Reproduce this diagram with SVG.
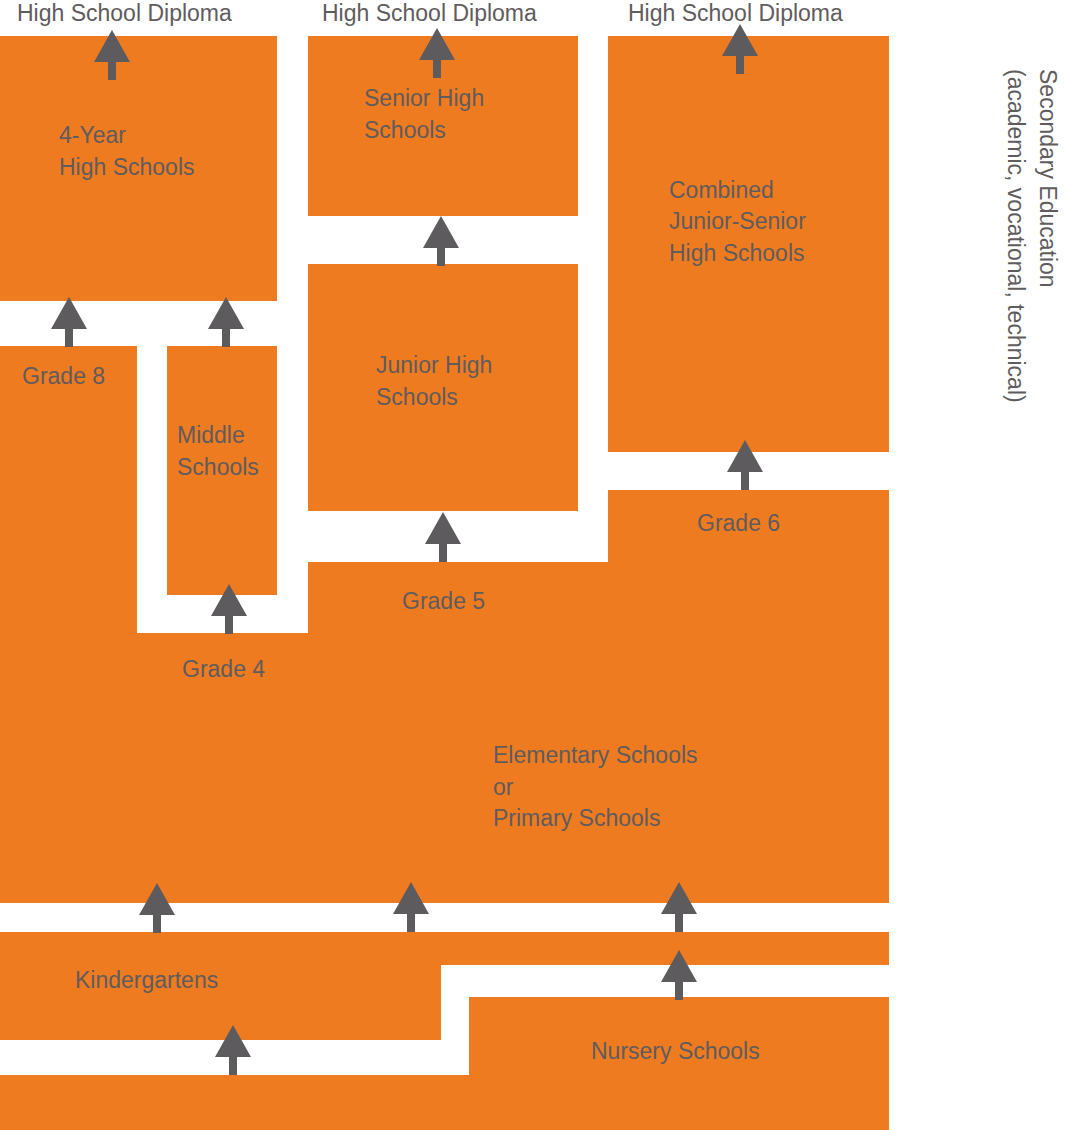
<svg xmlns="http://www.w3.org/2000/svg" width="1065" height="1130" viewBox="0 0 1065 1130">
<defs>
<style>
.b{fill:#EF7B21}
.t{font-family:"Liberation Sans",Arial,sans-serif;font-size:23px;fill:#5F5C5E}
.a{fill:#5D5B5D}
</style>
<symbol id="ar" overflow="visible"><polygon points="0,0 18,32 4,32 4,50 -4,50 -4,32 -18,32" class="a"/></symbol>
</defs>
<rect width="1065" height="1130" fill="#fff"/>
<g id="hs4"><rect class="b" x="0" y="36" width="277" height="265"/><text class="t" x="59" y="143">4-Year</text><text class="t" x="59" y="175">High Schools</text></g>
<g id="shs"><rect class="b" x="308" y="36" width="270" height="180"/><text class="t" x="364" y="106">Senior High</text><text class="t" x="364" y="138">Schools</text></g>
<g id="cjs"><rect class="b" x="608" y="36" width="281" height="416"/><text class="t" x="669" y="198">Combined</text><text class="t" x="669" y="229">Junior-Senior</text><text class="t" x="669" y="261">High Schools</text></g>
<g id="jhs"><rect class="b" x="308" y="264" width="270" height="247"/><text class="t" x="376" y="373">Junior High</text><text class="t" x="376" y="405">Schools</text></g>
<g id="ms"><rect class="b" x="167" y="346" width="110" height="249"/><text class="t" x="177" y="443">Middle</text><text class="t" x="177" y="475">Schools</text></g>
<g id="elem"><polygon class="b" points="0,346 137,346 137,633 308,633 308,562 608,562 608,490 889,490 889,903 0,903"/>
<text class="t" x="22" y="384">Grade 8</text><text class="t" x="182" y="677">Grade 4</text><text class="t" x="402" y="609">Grade 5</text><text class="t" x="697" y="531">Grade 6</text>
<text class="t" x="493" y="763">Elementary Schools</text><text class="t" x="493" y="795">or</text><text class="t" x="493" y="826">Primary Schools</text></g>
<g id="kg"><polygon class="b" points="0,932 889,932 889,965 441,965 441,1040 0,1040"/><text class="t" x="75" y="988">Kindergartens</text></g>
<g id="ns"><polygon class="b" points="469,997 889,997 889,1130 0,1130 0,1075 469,1075"/><text class="t" x="591" y="1059">Nursery Schools</text></g>
<g id="labels">
<text class="t" x="17" y="21">High School Diploma</text><text class="t" x="322" y="21">High School Diploma</text><text class="t" x="628" y="21">High School Diploma</text>
<text class="t" transform="translate(1040,69) rotate(90)">Secondary Education</text>
<text class="t" transform="translate(1008,69) rotate(90)">(academic, vocational, technical)</text>
</g>
<g id="connectors">
<use href="#ar" x="112" y="30"/><use href="#ar" x="437" y="28"/><use href="#ar" x="740" y="24"/>
<use href="#ar" x="441" y="216"/><use href="#ar" x="69" y="297"/><use href="#ar" x="226" y="297"/>
<use href="#ar" x="745" y="440"/><use href="#ar" x="443" y="512"/><use href="#ar" x="229" y="584"/>
<use href="#ar" x="157" y="883"/><use href="#ar" x="411" y="882"/><use href="#ar" x="679" y="882"/>
<use href="#ar" x="679" y="950"/><use href="#ar" x="233" y="1025"/>
</g>
</svg>
